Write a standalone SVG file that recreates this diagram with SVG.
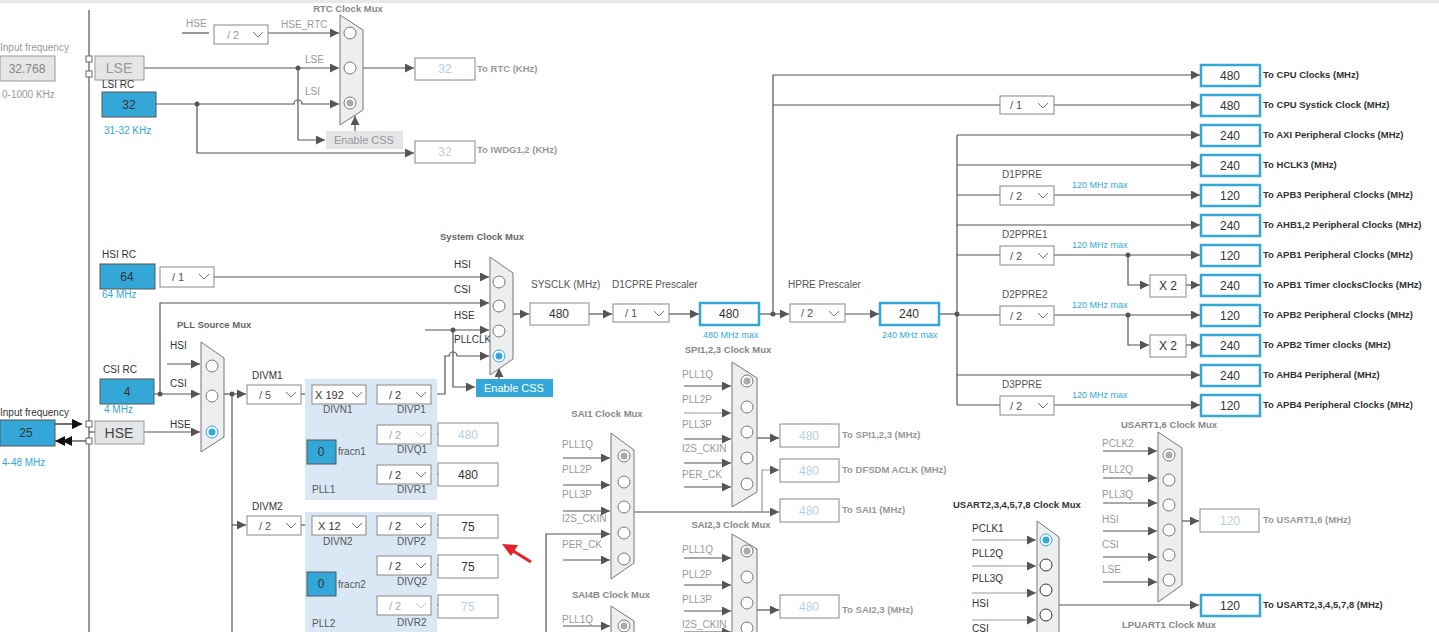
<svg xmlns="http://www.w3.org/2000/svg" width="1439" height="632" viewBox="0 0 1439 632">
<defs>
<marker id="ar" viewBox="0 0 10 10" refX="10" refY="5" markerWidth="9" markerHeight="9" markerUnits="userSpaceOnUse" orient="auto"><path d="M0,0L10,5L0,10z" fill="#555"/></marker>
<marker id="ar2" viewBox="0 0 10 10" refX="10" refY="5" markerWidth="9" markerHeight="9" markerUnits="userSpaceOnUse" orient="auto"><path d="M0,0L10,5L0,10z" fill="#111"/></marker>
</defs>
<style>
text{font-family:"Liberation Sans",Arial,sans-serif;font-size:10px;fill:#555}
.t{fill:#888;font-weight:bold;font-size:9.5px}
.lb{fill:#333;font-size:9.5px;font-weight:bold}
.g{fill:#999}
.bl{fill:#34a7d9}
.v{font-size:12px;fill:#333;text-anchor:middle}
.vl{font-size:12px;fill:#b8cfe0;text-anchor:middle}
.ln{stroke:#555;stroke-width:1.2;fill:none}
.la{stroke:#555;stroke-width:1.2;fill:none;marker-end:url(#ar)}
.lg{stroke:#999;stroke-width:1.2;fill:none;marker-end:url(#ar)}
.box{fill:#fff;stroke:#888;stroke-width:1}
.obox{fill:#fff;stroke:#34a7d9;stroke-width:2.5}
.blue{fill:#34a7d9;stroke:#555;stroke-width:1}
.gbox{fill:#e3e5e7;stroke:#999;stroke-width:1}
.sel{fill:#fff;stroke:#888;stroke-width:1}
.chev{fill:none;stroke:#777;stroke-width:1}
.mux{fill:#eceef0;stroke:#777;stroke-width:1}
.c{fill:#fff;stroke:#777;stroke-width:1}
.cs{fill:#aaa}
.cb{fill:#34a7d9}
.pll{fill:#dae8f5}
.dot{fill:#555}
</style>
<rect width="1439" height="632" fill="#fff"/>
<rect x="0" y="0" width="1439" height="3" fill="#e8e8e8"/>

<g id="connectors">
<line class="ln" x1="89" y1="10" x2="89" y2="632"/>
<line class="ln" x1="182" y1="33" x2="209" y2="33"/>
<line class="la" x1="268" y1="33" x2="339" y2="33"/>
<line class="la" x1="144" y1="68" x2="339" y2="68"/>
<path class="la" d="M156,104 H294 a4,4 0 0 1 8,0 H339"/>
<path class="la" d="M298,68 V140 H325"/>
<path class="la" d="M197,104 V153 H414"/>
<line class="la" x1="355" y1="131" x2="355" y2="116"/>
<line class="la" x1="363" y1="68" x2="414" y2="68"/>
<line class="la" x1="214" y1="277" x2="489" y2="277"/>
<path class="la" d="M160,394 V303 H489"/>
<line class="la" x1="425" y1="330" x2="489" y2="330"/>
<path class="la" d="M431,394 H445 V356 H449 a4,4 0 0 1 8,0 H489"/>
<path class="la" d="M453,330 V387 H475"/>
<line class="la" x1="499" y1="379" x2="499" y2="368"/>
<line class="la" x1="513" y1="314" x2="529" y2="314"/>
<line class="la" x1="589" y1="314" x2="612" y2="314"/>
<line class="la" x1="669" y1="314" x2="699" y2="314"/>
<line class="la" x1="759" y1="314" x2="789" y2="314"/>
<line class="la" x1="845" y1="314" x2="879" y2="314"/>
<line class="ln" x1="939" y1="314" x2="957" y2="314"/>
<path class="la" d="M773,314 V75 H1200"/>
<line class="ln" x1="773" y1="105" x2="1000" y2="105"/>
<line class="la" x1="1054" y1="105" x2="1200" y2="105"/>
<line class="ln" x1="957" y1="135" x2="957" y2="405"/>
<line class="la" x1="957" y1="135" x2="1200" y2="135"/>
<line class="la" x1="957" y1="165" x2="1200" y2="165"/>
<line class="ln" x1="957" y1="195" x2="1000" y2="195"/>
<line class="la" x1="1054" y1="195" x2="1200" y2="195"/>
<line class="la" x1="957" y1="225" x2="1200" y2="225"/>
<line class="ln" x1="957" y1="255" x2="1000" y2="255"/>
<line class="la" x1="1054" y1="255" x2="1200" y2="255"/>
<path class="la" d="M1128,255 V285 H1149"/>
<line class="la" x1="1186" y1="285" x2="1200" y2="285"/>
<line class="ln" x1="957" y1="315" x2="1000" y2="315"/>
<line class="la" x1="1054" y1="315" x2="1200" y2="315"/>
<path class="la" d="M1128,315 V345 H1149"/>
<line class="la" x1="1186" y1="345" x2="1200" y2="345"/>
<line class="la" x1="957" y1="375" x2="1200" y2="375"/>
<line class="ln" x1="957" y1="405" x2="1000" y2="405"/>
<line class="la" x1="1054" y1="405" x2="1200" y2="405"/>
<line class="la" x1="167" y1="364" x2="200" y2="364"/>
<line class="la" x1="154" y1="394" x2="200" y2="394"/>
<line class="la" x1="144" y1="432" x2="200" y2="432"/>
<line class="ln" x1="224" y1="394" x2="238" y2="394"/>
<line class="la" x1="238" y1="394" x2="246" y2="394"/>
<line class="ln" x1="232" y1="394" x2="232" y2="632"/>
<line class="la" x1="232" y1="525" x2="246" y2="525"/>
<line class="ln" x1="301" y1="394" x2="312" y2="394"/>
<line class="ln" x1="301" y1="525" x2="312" y2="525"/>
<path class="ln" d="M366,394 H377 M368,394 V474 H377 M368,434 H377"/>
<line class="ln" x1="431" y1="434" x2="438" y2="434"/>
<line class="ln" x1="431" y1="474" x2="438" y2="474"/>
<path class="ln" d="M366,525 H377 M368,525 V605 H377 M368,565 H377"/>
<line class="ln" x1="431" y1="525" x2="438" y2="525"/>
<line class="ln" x1="431" y1="565" x2="438" y2="565"/>
<line class="ln" x1="431" y1="605" x2="438" y2="605"/>
<line x1="55" y1="424" x2="82" y2="424" stroke="#111" stroke-width="1.2" marker-end="url(#ar2)"/>
<path d="M72,419 L82,424 L72,429z" fill="#111"/>
<line x1="89" y1="441" x2="55" y2="441" stroke="#111" stroke-width="1.2"/>
<path d="M55,441 L65,436 L65,446z M62,441 L72,436 L72,446z" fill="#111"/>
<line class="ln" x1="89" y1="432" x2="95" y2="432"/>
<line class="la" x1="684" y1="386" x2="731" y2="386"/>
<line class="lg" x1="684" y1="413" x2="731" y2="413"/>
<line class="la" x1="684" y1="439" x2="731" y2="439"/>
<line class="la" x1="684" y1="463" x2="731" y2="463"/>
<line class="la" x1="684" y1="487" x2="731" y2="487"/>
<line class="la" x1="757" y1="438" x2="779" y2="438"/>
<line class="la" x1="563" y1="458" x2="610" y2="458"/>
<line class="la" x1="563" y1="485" x2="610" y2="485"/>
<line class="la" x1="563" y1="511" x2="610" y2="511"/>
<path class="la" d="M546,632 V534 H610"/>
<line class="la" x1="563" y1="560" x2="610" y2="560"/>
<line class="la" x1="634" y1="512" x2="779" y2="512"/>
<path class="lg" d="M762,512 V470 H779"/>
<line class="la" x1="684" y1="558" x2="731" y2="558"/>
<line class="la" x1="684" y1="585" x2="731" y2="585"/>
<line class="la" x1="684" y1="611" x2="731" y2="611"/>
<line class="la" x1="684" y1="632" x2="731" y2="632"/>
<line class="la" x1="757" y1="610" x2="779" y2="610"/>
<line class="la" x1="563" y1="626" x2="610" y2="626"/>
<line class="la" x1="1103" y1="451" x2="1157" y2="451"/>
<line class="la" x1="1103" y1="478" x2="1157" y2="478"/>
<line class="la" x1="1103" y1="503" x2="1157" y2="503"/>
<line class="la" x1="1103" y1="531" x2="1157" y2="531"/>
<line class="la" x1="1103" y1="557" x2="1157" y2="557"/>
<line class="la" x1="1103" y1="582" x2="1157" y2="582"/>
<line class="la" x1="1182" y1="521" x2="1199" y2="521"/>
<line class="lg" x1="972" y1="540" x2="1036" y2="540"/>
<line class="lg" x1="972" y1="566" x2="1036" y2="566"/>
<line class="lg" x1="972" y1="593" x2="1036" y2="593"/>
<line class="lg" x1="972" y1="620" x2="1036" y2="620"/>
<line class="la" x1="1059" y1="605" x2="1199" y2="605"/>
<circle class="dot" cx="298" cy="68" r="2.5"/><circle class="dot" cx="197" cy="104" r="2.5"/>
<circle class="dot" cx="160" cy="394" r="2.5"/><circle class="dot" cx="453" cy="330" r="2.5"/>
<circle class="dot" cx="232" cy="394" r="2.5"/><circle class="dot" cx="773" cy="314" r="2.5"/>
<circle class="dot" cx="957" cy="314" r="2.5"/><circle class="dot" cx="1128" cy="255" r="2.5"/>
<circle class="dot" cx="1128" cy="315" r="2.5"/>
<rect x="86" y="56" width="6" height="6" fill="#fff" stroke="#666"/><rect x="86" y="71" width="6" height="6" fill="#fff" stroke="#666"/>
<rect x="86" y="421" width="6" height="6" fill="#fff" stroke="#666"/><rect x="86" y="438" width="6" height="6" fill="#fff" stroke="#666"/>
</g>

<g id="lse-in"><text class="g" x="0" y="51">Input frequency</text><rect class="gbox" x="0" y="56" width="55" height="25"/><text class="v" x="27" y="73" style="fill:#888">32.768</text><text class="g" x="2" y="98">0-1000 KHz</text></g>
<g id="lse"><rect class="gbox" x="95" y="56" width="49" height="24"/><text x="119" y="73" style="font-size:14px;fill:#999;text-anchor:middle">LSE</text></g>
<g id="lsi"><text x="102" y="88" style="fill:#333">LSI RC</text><rect class="blue" x="102" y="92" width="54" height="25"/><text class="v" x="129" y="109">32</text><text class="bl" x="104" y="134">31-32 KHz</text></g>
<g id="rtcdiv"><text class="g" x="186" y="27">HSE</text><rect class="sel" x="214" y="25" width="54" height="19"/><text x="227" y="39" style="fill:#999;font-size:11px">/ 2</text><polyline class="chev" points="253,32 258,37 263,32"/><text class="g" x="281" y="28">HSE_RTC</text><text class="g" x="305" y="63">LSE</text><text class="g" x="305" y="95">LSI</text></g>
<g id="rtcmux"><text class="t" x="348" y="12" text-anchor="middle">RTC Clock Mux</text><path class="mux" d="M340,15 L363,30 L363,110 L340,125z"/><circle class="c" cx="350" cy="33" r="6"/><circle class="c" cx="350" cy="68" r="6"/><circle class="c" cx="350" cy="103" r="6"/><circle class="cs" cx="350" cy="103" r="3.5"/></g>
<g id="css1"><rect x="326" y="131" width="77" height="18" fill="#e3e5e7"/><text x="364" y="144" style="fill:#999;font-size:11px;text-anchor:middle">Enable CSS</text></g>
<g id="rtcout"><rect class="box" x="415" y="58" width="60" height="22"/><text class="vl" x="445" y="73">32</text><text class="lb" x="477" y="72" style="fill:#999">To RTC (KHz)</text></g>
<g id="iwdg"><rect class="box" x="415" y="141" width="60" height="22"/><text class="vl" x="445" y="156">32</text><text class="lb" x="477" y="153" style="fill:#999">To IWDG1,2 (KHz)</text></g>

<g id="hsi"><text x="102" y="258" style="fill:#333">HSI RC</text><rect class="blue" x="100" y="264" width="55" height="25"/><text class="v" x="127" y="281">64</text><text class="bl" x="102" y="298">64 MHz</text><rect class="sel" x="160" y="267" width="54" height="20"/><text x="172" y="281" style="font-size:11px">/ 1</text><polyline class="chev" points="199,274 204,279 209,274"/></g>
<g id="csi"><text x="103" y="373" style="fill:#333">CSI RC</text><rect class="blue" x="100" y="379" width="54" height="25"/><text class="v" x="127" y="396">4</text><text class="bl" x="104" y="413">4 MHz</text></g>
<g id="hse-in"><text x="0" y="416" style="fill:#333">Input frequency</text><rect class="blue" x="0" y="420" width="55" height="26"/><text class="v" x="26" y="437">25</text><text class="bl" x="2" y="466">4-48 MHz</text></g>
<g id="hse"><rect class="gbox" x="95" y="421" width="49" height="23"/><text x="119" y="438" style="font-size:14px;fill:#444;text-anchor:middle">HSE</text></g>

<g id="pllmux"><text class="t" x="177" y="328" style="fill:#666">PLL Source Mux</text><text x="170" y="349" style="fill:#333">HSI</text><text x="170" y="387" style="fill:#333">CSI</text><text x="170" y="428" style="fill:#333">HSE</text>
<path class="mux" d="M201,342 L224,358 L224,437 L201,452z"/><circle class="c" cx="212" cy="366" r="6"/><circle class="c" cx="212" cy="396" r="6"/><circle class="c" cx="212" cy="432" r="6" style="stroke:#34a7d9"/><circle class="cb" cx="212" cy="432" r="3.5"/></g>

<g id="sysmux"><text class="t" x="482" y="240" text-anchor="middle" style="fill:#666">System Clock Mux</text><text x="454" y="268" style="fill:#333">HSI</text><text x="454" y="293" style="fill:#333">CSI</text><text x="454" y="319" style="fill:#333">HSE</text><text x="454" y="343" style="fill:#333">PLLCLK</text>
<path class="mux" d="M490,257 L513,273 L513,359 L490,375z"/><circle class="c" cx="499" cy="282" r="6"/><circle class="c" cx="499" cy="306" r="6"/><circle class="c" cx="499" cy="331" r="6"/><circle class="c" cx="499" cy="356" r="6" style="stroke:#34a7d9"/><circle class="cb" cx="499" cy="356" r="3.5"/></g>
<g id="css2"><rect x="476" y="379" width="77" height="18" fill="#34a7d9"/><text x="514" y="392" style="fill:#fff;font-size:11px;text-anchor:middle">Enable CSS</text></g>
<g id="sysclk"><text x="531" y="288">SYSCLK (MHz)</text><rect class="box" x="530" y="303" width="59" height="22"/><text class="v" x="559" y="318">480</text></g>
<g id="d1cpre"><text x="612" y="288">D1CPRE Prescaler</text><rect class="sel" x="613" y="304" width="56" height="18"/><text x="625" y="317" style="font-size:11px">/ 1</text><polyline class="chev" points="654,311 659,316 664,311"/></g>
<g id="cpu"><rect class="obox" x="700" y="303" width="59" height="22"/><text class="v" x="729" y="318">480</text><text class="bl" x="703" y="338" style="font-size:9px">480 MHz max</text></g>
<g id="hpre"><text x="788" y="288">HPRE Prescaler</text><rect class="sel" x="790" y="304" width="55" height="18"/><text x="801" y="317" style="font-size:11px">/ 2</text><polyline class="chev" points="829,311 834,316 839,311"/></g>
<g id="hclk"><rect class="obox" x="880" y="303" width="59" height="22"/><text class="v" x="909" y="318">240</text><text class="bl" x="882" y="338" style="font-size:9px">240 MHz max</text></g>

<g id="systick-div"><rect class="sel" x="1000" y="96" width="54" height="18"/><text x="1010" y="109" style="font-size:11px">/ 1</text><polyline class="chev" points="1038,103 1043,108 1048,103"/></g>
<g id="d1ppre"><text x="1002" y="178">D1PPRE</text><text class="bl" x="1072" y="188" style="font-size:9px">120 MHz max</text><rect class="sel" x="1000" y="186" width="54" height="19"/><text x="1010" y="200" style="font-size:11px">/ 2</text><polyline class="chev" points="1038,193 1043,198 1048,193"/></g>
<g id="d2ppre1"><text x="1002" y="238">D2PPRE1</text><text class="bl" x="1072" y="248" style="font-size:9px">120 MHz max</text><rect class="sel" x="1000" y="246" width="54" height="19"/><text x="1010" y="260" style="font-size:11px">/ 2</text><polyline class="chev" points="1038,253 1043,258 1048,253"/></g>
<g id="d2ppre2"><text x="1002" y="298">D2PPRE2</text><text class="bl" x="1072" y="308" style="font-size:9px">120 MHz max</text><rect class="sel" x="1000" y="306" width="54" height="19"/><text x="1010" y="320" style="font-size:11px">/ 2</text><polyline class="chev" points="1038,313 1043,318 1048,313"/></g>
<g id="d3ppre"><text x="1002" y="388">D3PPRE</text><text class="bl" x="1072" y="398" style="font-size:9px">120 MHz max</text><rect class="sel" x="1000" y="396" width="54" height="19"/><text x="1010" y="410" style="font-size:11px">/ 2</text><polyline class="chev" points="1038,403 1043,408 1048,403"/></g>
<g id="x2a"><rect class="box" x="1150" y="275" width="36" height="22"/><text class="v" x="1168" y="290">X 2</text></g>
<g id="x2b"><rect class="box" x="1150" y="335" width="36" height="22"/><text class="v" x="1168" y="350">X 2</text></g>

<g id="outputs">
<rect class="obox" x="1201" y="65" width="59" height="21"/><text class="v" x="1230" y="80">480</text><text class="lb" x="1263" y="78">To CPU Clocks (MHz)</text>
<rect class="obox" x="1201" y="95" width="59" height="21"/><text class="v" x="1230" y="110">480</text><text class="lb" x="1263" y="108">To CPU Systick Clock (MHz)</text>
<rect class="obox" x="1201" y="125" width="59" height="21"/><text class="v" x="1230" y="140">240</text><text class="lb" x="1263" y="138">To AXI Peripheral Clocks (MHz)</text>
<rect class="obox" x="1201" y="155" width="59" height="21"/><text class="v" x="1230" y="170">240</text><text class="lb" x="1263" y="168">To HCLK3 (MHz)</text>
<rect class="obox" x="1201" y="185" width="59" height="21"/><text class="v" x="1230" y="200">120</text><text class="lb" x="1263" y="198">To APB3 Peripheral Clocks (MHz)</text>
<rect class="obox" x="1201" y="215" width="59" height="21"/><text class="v" x="1230" y="230">240</text><text class="lb" x="1263" y="228">To AHB1,2 Peripheral Clocks (MHz)</text>
<rect class="obox" x="1201" y="245" width="59" height="21"/><text class="v" x="1230" y="260">120</text><text class="lb" x="1263" y="258">To APB1 Peripheral Clocks (MHz)</text>
<rect class="obox" x="1201" y="275" width="59" height="21"/><text class="v" x="1230" y="290">240</text><text class="lb" x="1263" y="288">To APB1 Timer clocksClocks (MHz)</text>
<rect class="obox" x="1201" y="305" width="59" height="21"/><text class="v" x="1230" y="320">120</text><text class="lb" x="1263" y="318">To APB2 Peripheral Clocks (MHz)</text>
<rect class="obox" x="1201" y="335" width="59" height="21"/><text class="v" x="1230" y="350">240</text><text class="lb" x="1263" y="348">To APB2 Timer clocks (MHz)</text>
<rect class="obox" x="1201" y="365" width="59" height="21"/><text class="v" x="1230" y="380">240</text><text class="lb" x="1263" y="378">To AHB4 Peripheral (MHz)</text>
<rect class="obox" x="1201" y="395" width="59" height="21"/><text class="v" x="1230" y="410">120</text><text class="lb" x="1263" y="408">To APB4 Peripheral Clocks (MHz)</text>
</g>

<g id="pll1"><rect class="pll" x="305" y="379" width="132" height="121"/>
<text x="252" y="379" style="fill:#333">DIVM1</text>
<rect class="sel" x="247" y="385" width="54" height="19"/><text x="259" y="399" style="font-size:11px">/ 5</text><polyline class="chev" points="286,392 291,397 296,392"/>
<rect class="sel" x="312" y="385" width="54" height="19"/><text x="315" y="399" style="font-size:11px;fill:#333">X 192</text><polyline class="chev" points="352,392 357,397 362,392"/><text x="323" y="413">DIVN1</text>
<rect class="sel" x="377" y="385" width="54" height="19"/><text x="389" y="399" style="font-size:11px;fill:#333">/ 2</text><polyline class="chev" points="416,392 421,397 426,392"/><text x="397" y="413">DIVP1</text>
<rect class="sel" x="377" y="425" width="54" height="19"/><text x="389" y="439" style="font-size:11px;fill:#aaa">/ 2</text><polyline class="chev" points="416,432 421,437 426,432" style="stroke:#ccc"/><text x="397" y="453">DIVQ1</text>
<rect class="box" x="438" y="423" width="60" height="23"/><text class="vl" x="468" y="439">480</text>
<rect class="sel" x="377" y="465" width="54" height="19"/><text x="389" y="479" style="font-size:11px;fill:#333">/ 2</text><polyline class="chev" points="416,472 421,477 426,472"/><text x="397" y="493">DIVR1</text>
<rect class="box" x="438" y="463" width="60" height="23"/><text class="v" x="468" y="479">480</text>
<rect class="blue" x="307" y="440" width="29" height="24"/><text class="v" x="321" y="456">0</text><text x="338" y="455">fracn1</text><text x="312" y="493">PLL1</text></g>

<g id="pll2"><rect class="pll" x="305" y="512" width="132" height="120"/>
<text x="252" y="510" style="fill:#333">DIVM2</text>
<rect class="sel" x="247" y="516" width="54" height="19"/><text x="259" y="530" style="font-size:11px">/ 2</text><polyline class="chev" points="286,523 291,528 296,523"/>
<rect class="sel" x="312" y="516" width="54" height="19"/><text x="318" y="530" style="font-size:11px;fill:#333">X 12</text><polyline class="chev" points="352,523 357,528 362,523"/><text x="323" y="545">DIVN2</text>
<rect class="sel" x="377" y="516" width="54" height="19"/><text x="389" y="530" style="font-size:11px;fill:#333">/ 2</text><polyline class="chev" points="416,523 421,528 426,523"/><text x="397" y="545">DIVP2</text>
<rect class="box" x="438" y="515" width="60" height="23"/><text class="v" x="468" y="531">75</text>
<rect class="sel" x="377" y="556" width="54" height="19"/><text x="389" y="570" style="font-size:11px;fill:#333">/ 2</text><polyline class="chev" points="416,563 421,568 426,563"/><text x="397" y="585">DIVQ2</text>
<rect class="box" x="438" y="555" width="60" height="23"/><text class="v" x="468" y="571">75</text>
<rect class="sel" x="377" y="596" width="54" height="19"/><text x="389" y="610" style="font-size:11px;fill:#aaa">/ 2</text><polyline class="chev" points="416,603 421,608 426,603" style="stroke:#ccc"/><text x="397" y="626">DIVR2</text>
<rect class="box" x="438" y="595" width="60" height="23"/><text class="vl" x="468" y="611">75</text>
<rect class="blue" x="307" y="572" width="29" height="24"/><text class="v" x="321" y="588">0</text><text x="338" y="588">fracn2</text><text x="312" y="627">PLL2</text></g>

<g id="redarrow"><line x1="531" y1="562" x2="510" y2="549" stroke="#e8202a" stroke-width="3"/><path d="M502,544 L518,545 L511,556z" fill="#e8202a"/></g>

<g id="spimux"><text class="t" x="728" y="353" text-anchor="middle">SPI1,2,3 Clock Mux</text>
<text class="g" x="682" y="378">PLL1Q</text><text class="g" x="682" y="403">PLL2P</text><text class="g" x="682" y="428">PLL3P</text><text class="g" x="682" y="452">I2S_CKIN</text><text class="g" x="682" y="478">PER_CK</text>
<path class="mux" d="M732,362 L757,378 L757,492 L732,507z"/><circle class="c" cx="747" cy="381" r="6"/><circle class="cs" cx="747" cy="381" r="3.5"/><circle class="c" cx="747" cy="407" r="6"/><circle class="c" cx="747" cy="432" r="6"/><circle class="c" cx="747" cy="458" r="6"/><circle class="c" cx="747" cy="484" r="6"/>
<rect class="box" x="780" y="424" width="59" height="23"/><text class="vl" x="809" y="440">480</text><text class="lb" x="842" y="438" style="fill:#999">To SPI1,2,3 (MHz)</text>
<rect class="box" x="780" y="459" width="59" height="23"/><text class="vl" x="809" y="475">480</text><text class="lb" x="842" y="473" style="fill:#999">To DFSDM ACLK (MHz)</text>
<rect class="box" x="780" y="499" width="59" height="23"/><text class="vl" x="809" y="515">480</text><text class="lb" x="842" y="513" style="fill:#999">To SAI1 (MHz)</text></g>

<g id="sai1mux"><text class="t" x="607" y="417" text-anchor="middle">SAI1 Clock Mux</text>
<text class="g" x="562" y="448">PLL1Q</text><text class="g" x="562" y="473">PLL2P</text><text class="g" x="562" y="498">PLL3P</text><text class="g" x="562" y="522">I2S_CKIN</text><text class="g" x="562" y="548">PER_CK</text>
<path class="mux" d="M611,433 L634,450 L634,563 L611,579z"/><circle class="c" cx="624" cy="456" r="6"/><circle class="cs" cx="624" cy="456" r="3.5"/><circle class="c" cx="624" cy="482" r="6"/><circle class="c" cx="624" cy="507" r="6"/><circle class="c" cx="624" cy="533" r="6"/><circle class="c" cx="624" cy="559" r="6"/></g>

<g id="sai23mux"><text class="t" x="731" y="528" text-anchor="middle">SAI2,3 Clock Mux</text>
<text class="g" x="682" y="553">PLL1Q</text><text class="g" x="682" y="578">PLL2P</text><text class="g" x="682" y="603">PLL3P</text><text class="g" x="682" y="628">I2S_CKIN</text>
<path class="mux" d="M732,534 L757,549 L757,640 L732,640z"/><circle class="c" cx="747" cy="551" r="6"/><circle class="cs" cx="747" cy="551" r="3.5"/><circle class="c" cx="747" cy="577" r="6"/><circle class="c" cx="747" cy="603" r="6"/><circle class="c" cx="747" cy="628" r="6"/>
<rect class="box" x="780" y="595" width="59" height="23"/><text class="vl" x="809" y="611">480</text><text class="lb" x="842" y="613" style="fill:#999">To SAI2,3 (MHz)</text></g>

<g id="sai4bmux"><text class="t" x="611" y="598" text-anchor="middle">SAI4B Clock Mux</text><text class="g" x="562" y="623">PLL1Q</text>
<path class="mux" d="M611,606 L634,621 L634,640 L611,640z"/><circle class="c" cx="624" cy="626" r="6"/><circle class="cs" cx="624" cy="626" r="3.5"/></g>

<g id="usart16mux"><text class="t" x="1169" y="428" text-anchor="middle">USART1,6 Clock Mux</text>
<text class="g" x="1102" y="447">PCLK2</text><text class="g" x="1102" y="473">PLL2Q</text><text class="g" x="1102" y="498">PLL3Q</text><text class="g" x="1102" y="523">HSI</text><text class="g" x="1102" y="548">CSI</text><text class="g" x="1102" y="573">LSE</text>
<path class="mux" d="M1158,432 L1182,448 L1182,585 L1158,602z"/><circle class="c" cx="1169" cy="455" r="6"/><circle class="cs" cx="1169" cy="455" r="3.5"/><circle class="c" cx="1169" cy="480" r="6"/><circle class="c" cx="1169" cy="505" r="6"/><circle class="c" cx="1169" cy="530" r="6"/><circle class="c" cx="1169" cy="555" r="6"/><circle class="c" cx="1169" cy="580" r="6"/>
<rect class="box" x="1200" y="509" width="59" height="23"/><text class="vl" x="1230" y="525">120</text><text class="lb" x="1263" y="523" style="fill:#999">To USART1,6 (MHz)</text></g>

<g id="usart2mux"><text class="lb" x="953" y="508">USART2,3,4,5,7,8 Clock Mux</text>
<text x="972" y="532" style="fill:#333">PCLK1</text><text x="972" y="557" style="fill:#333">PLL2Q</text><text x="972" y="582" style="fill:#333">PLL3Q</text><text x="972" y="607" style="fill:#333">HSI</text><text x="972" y="632" style="fill:#333">CSI</text>
<path class="mux" d="M1037,521 L1059,537 L1059,640 L1037,640z"/><circle class="c" cx="1046" cy="540" r="6" style="stroke:#34a7d9"/><circle class="cb" cx="1046" cy="540" r="3.5"/><circle class="c" cx="1046" cy="565" r="6" style="stroke:#333"/><circle class="c" cx="1046" cy="590" r="6" style="stroke:#333"/><circle class="c" cx="1046" cy="615" r="6" style="stroke:#333"/>
<rect class="obox" x="1201" y="595" width="59" height="21"/><text class="v" x="1230" y="610">120</text><text class="lb" x="1263" y="608">To USART2,3,4,5,7,8 (MHz)</text>
<text class="t" x="1169" y="628" text-anchor="middle">LPUART1 Clock Mux</text></g>
</svg>
